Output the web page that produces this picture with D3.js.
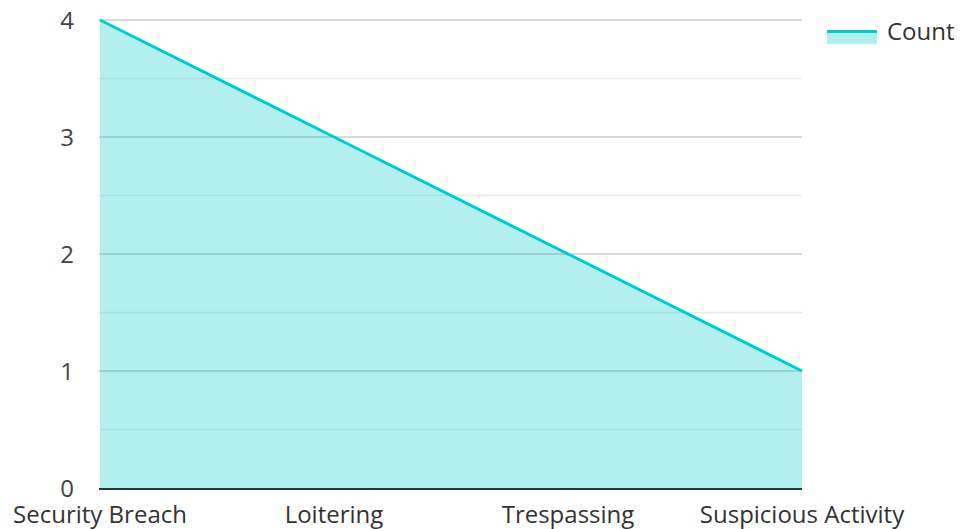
<!DOCTYPE html>
<html><head><meta charset="utf-8">
<script src="https://cdn.jsdelivr.net/npm/d3@7"></script>
<style>body{margin:0;background:#fff}svg{display:block}text{font-family:"Open Sans","Noto Sans",sans-serif}</style>
</head><body>
<svg id="c" width="960" height="529"></svg>
<script>
const categories = ["Security Breach","Loitering","Trespassing","Suspicious Activity"];
const counts = [4,3,2,1];
const yTicks = [0,1,2,3,4];
const seriesName = "Count";

const svg = d3.select("#c");
const x = d3.scalePoint().domain(categories).range([100,802]);
const y = d3.scaleLinear().domain([0,4]).range([488,20]);

// minor grid
const minor = d3.range(0.5,4,1);
svg.append("g").selectAll("line").data(minor).join("line")
  .attr("x1",99).attr("x2",802).attr("y1",d=>y(d)).attr("y2",d=>y(d))
  .attr("stroke","#ebebeb").attr("stroke-width",1.5);
svg.append("g").selectAll("line").data(yTicks.filter(d=>d>0)).join("line")
  .attr("x1",99).attr("x2",802).attr("y1",d=>y(d)).attr("y2",d=>y(d))
  .attr("stroke","#cccccc").attr("stroke-width",1.5);

const data = categories.map((c,i)=>({c,v:counts[i]}));
svg.append("path").datum(data)
  .attr("d", d3.area().x(d=>x(d.c)).y0(y(0)).y1(d=>y(d.v)))
  .attr("fill","rgba(0,204,204,0.3)");
svg.append("path").datum(data)
  .attr("d", d3.line().x(d=>x(d.c)).y(d=>y(d.v)))
  .attr("fill","none").attr("stroke","#00cccc").attr("stroke-width",3);

// x axis line
svg.append("line").attr("x1",99).attr("x2",802).attr("y1",489).attr("y2",489)
  .attr("stroke","#333").attr("stroke-width",2);

// y labels
svg.append("g").selectAll("text").data(yTicks).join("text")
  .attr("x",74).attr("y",d=>y(d)+9).attr("text-anchor","end")
  .attr("font-size",24).attr("fill","#444").text(d=>d);

// x labels
svg.append("g").selectAll("text").data(categories).join("text")
  .attr("x",d=>x(d)).attr("y",523).attr("text-anchor","middle")
  .attr("font-size",24).attr("fill","#333").text(d=>d);

// legend
const lg = svg.append("g");
lg.append("rect").attr("x",827).attr("y",31).attr("width",50).attr("height",13).attr("fill","rgba(0,204,204,0.3)");
lg.append("line").attr("x1",827).attr("x2",877).attr("y1",31.5).attr("y2",31.5).attr("stroke","#00cccc").attr("stroke-width",3);
lg.append("text").attr("x",887).attr("y",40).attr("font-size",24).attr("fill","#333").text(seriesName);
</script>
</body></html>
